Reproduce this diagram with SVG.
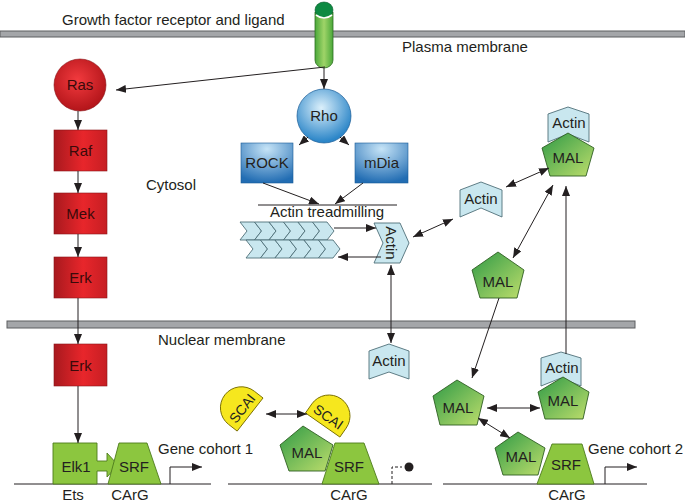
<svg xmlns="http://www.w3.org/2000/svg" width="685" height="504" viewBox="0 0 685 504">
<style>
.t{font-family:"Liberation Sans",Arial,sans-serif;font-size:15px;fill:#231f20}
.c{text-anchor:middle}
.s{font-size:14px}
.dk{fill:#3a0a0a}
.mem{fill:#a4a6a9;stroke:#5d5e60;stroke-width:1}
.ln{fill:none;stroke:#231f20;stroke-width:1}
.a{marker-end:url(#ah)}
.b{marker-start:url(#ah);marker-end:url(#ah)}
.rbox{fill:url(#gRed);stroke:#8a1418;stroke-width:0.6}
.bbox{fill:url(#gBlueBox);stroke:#1a5b96;stroke-width:0.6}
.actin{fill:#c9e7ef;stroke:#4f6f78;stroke-width:0.9}
.mal{fill:url(#gMal);stroke:#2f5f22;stroke-width:0.9}
.lime{fill:#8cc63f;stroke:#4d7a1c;stroke-width:0.9}
.scai{fill:#f6e71e;stroke:#7a6f00;stroke-width:0.9}
.dna{fill:none;stroke:#231f20;stroke-width:1}
</style>
<defs>
<marker id="ah" viewBox="0 0 10 8" refX="10" refY="4" markerWidth="10" markerHeight="8" markerUnits="userSpaceOnUse" orient="auto-start-reverse"><path d="M0,0L10,4L0,8z" fill="#231f20"/></marker>
<linearGradient id="gRed" x1="0" y1="0" x2="1" y2="0"><stop offset="0" stop-color="#a8191e"/><stop offset="0.55" stop-color="#e8262b"/><stop offset="1" stop-color="#c61e23"/></linearGradient>
<radialGradient id="gRas" cx="0.45" cy="0.4" r="0.6"><stop offset="0" stop-color="#f23a3e"/><stop offset="1" stop-color="#b3151a"/></radialGradient>
<radialGradient id="gRho" cx="0.45" cy="0.35" r="0.62"><stop offset="0" stop-color="#dcf0fb"/><stop offset="1" stop-color="#2c86c8"/></radialGradient>
<radialGradient id="gBlueBox" cx="0.5" cy="0.15" r="0.85"><stop offset="0" stop-color="#c6e4f7"/><stop offset="1" stop-color="#226db3"/></radialGradient>
<linearGradient id="gMal" x1="0" y1="0" x2="1" y2="1"><stop offset="0" stop-color="#2f9a46"/><stop offset="1" stop-color="#bede6c"/></linearGradient>
<linearGradient id="gRec" x1="0" y1="0" x2="1" y2="0"><stop offset="0" stop-color="#4aa83a"/><stop offset="0.5" stop-color="#9fd468"/><stop offset="1" stop-color="#4aa83a"/></linearGradient>
</defs>

<g id="membranes">
<rect class="mem" x="0" y="31" width="685" height="6"/>
<rect class="mem" x="7" y="321" width="628" height="7"/>
</g>

<g id="labels">
<text class="t" x="62" y="25">Growth factor receptor and ligand</text>
<text class="t" x="402" y="52">Plasma membrane</text>
<text class="t" x="146" y="190">Cytosol</text>
<text class="t" x="158" y="345">Nuclear membrane</text>
<text class="t" x="158" y="454">Gene cohort 1</text>
<text class="t" x="588" y="454">Gene cohort 2</text>
<text class="t c" x="73" y="500">Ets</text>
<text class="t c" x="130" y="500">CArG</text>
<text class="t c" x="349" y="500">CArG</text>
<text class="t c" x="567" y="500">CArG</text>
</g>

<g id="dna">
<path class="dna" d="M14,484H211M228,484H432M443,484H647"/>
</g>

<g id="receptor">
<path d="M315,12V60A9,8 0 0 0 333,60V12Z" fill="url(#gRec)" stroke="#2f6e22" stroke-width="0.8"/>
<ellipse cx="324" cy="10" rx="9" ry="8" fill="#0d8a42" stroke="#0a5a2c" stroke-width="0.6"/>
<path d="M316,15Q324,21 332,15" fill="none" stroke="#ffffff" stroke-width="1.6"/>
</g>

<g id="ras"><circle cx="80" cy="85" r="26" fill="url(#gRas)" stroke="#8a1418" stroke-width="0.6"/><text class="t c dk" x="80" y="90">Ras</text></g>
<g id="raf"><rect class="rbox" x="54" y="130" width="53" height="41"/><text class="t c dk" x="80.5" y="156">Raf</text></g>
<g id="mek"><rect class="rbox" x="54" y="193" width="53" height="41"/><text class="t c dk" x="80.5" y="219">Mek</text></g>
<g id="erk"><rect class="rbox" x="54" y="257" width="53" height="41"/><text class="t c dk" x="80.5" y="283">Erk</text></g>
<g id="erk-nuc"><rect class="rbox" x="54" y="344" width="53" height="42"/><text class="t c dk" x="80.5" y="371">Erk</text></g>

<g id="rho"><circle cx="324" cy="116" r="27" fill="url(#gRho)" stroke="#1a5b96" stroke-width="0.7"/><text class="t c" x="324" y="121">Rho</text></g>
<g id="rock"><rect class="bbox" x="241" y="143" width="52" height="40"/><text class="t c" x="267" y="168">ROCK</text></g>
<g id="mdia"><rect class="bbox" x="355" y="143" width="53" height="40"/><text class="t c" x="381.5" y="168">mDia</text></g>

<g id="treadmilling">
<text class="t c" x="327" y="217">Actin treadmilling</text>
<g class="actin">
<path d="M240,222h14.5l7,9l-7,9h-14.5l7,-9z"/>
<path d="M254.5,222h14.5l7,9l-7,9h-14.5l7,-9z"/>
<path d="M269,222h14.5l7,9l-7,9h-14.5l7,-9z"/>
<path d="M283.5,222h14.5l7,9l-7,9h-14.5l7,-9z"/>
<path d="M298,222h14.5l7,9l-7,9h-14.5l7,-9z"/>
<path d="M312.5,222h14.5l7,9l-7,9h-14.5l7,-9z"/>
<path d="M246,240h14.5l7,9l-7,9h-14.5l7,-9z"/>
<path d="M260.5,240h14.5l7,9l-7,9h-14.5l7,-9z"/>
<path d="M275,240h14.5l7,9l-7,9h-14.5l7,-9z"/>
<path d="M289.5,240h14.5l7,9l-7,9h-14.5l7,-9z"/>
<path d="M304,240h14.5l7,9l-7,9h-14.5l7,-9z"/>
<path d="M318.5,240h14.5l7,9l-7,9h-14.5l7,-9z"/>
</g>
</g>

<g id="actin-filament-end">
<path class="actin" d="M374,223H400L409,243L400,263H374L383,243Z"/>
<text class="t c" transform="translate(391,243) rotate(90)" y="5">Actin</text>
</g>

<g id="actin-cyto"><path class="actin" d="M481,182L502,190V217L481,208L460,217V190Z"/><text class="t c" x="481" y="204">Actin</text></g>

<g id="actin-mal-cyto">
<path class="actin" d="M568,107L589,114V142L568,134L548,142V114Z"/>
<text class="t c" x="569" y="128">Actin</text>
<path class="mal" d="M568,133L594,148L586,176H550L542,148Z"/>
<text class="t c" x="568" y="163">MAL</text>
</g>

<g id="mal-cyto"><path class="mal" d="M498,252L524,270L517,298H480L472,270Z"/><text class="t c" x="498" y="287">MAL</text></g>

<g id="actin-nuc"><path class="actin" d="M389,344L409,351V379L389,372L369,379V351Z"/><text class="t c" x="389" y="366">Actin</text></g>

<g id="mal-nuc"><path class="mal" d="M457,380L484,396L477,425H440L433,396Z"/><text class="t c" x="458" y="413">MAL</text></g>

<g id="actin-mal-nuc">
<path class="actin" d="M561,352L581,358V386L561,378L541,386V358Z"/>
<text class="t c" x="562" y="373">Actin</text>
<path class="mal" d="M563,377L589,392L583,419H545L538,392Z"/>
<text class="t c" x="563" y="406">MAL</text>
</g>

<g id="cohort1">
<path class="lime" d="M53,443H97V461H107V453L118,465L107,477V471H97V484H53Z"/>
<text class="t c" x="76" y="472">Elk1</text>
<path class="lime" d="M119,443H147L161,484H108Z"/>
<text class="t c" x="134" y="472">SRF</text>
</g>

<g id="scai-free">
<g transform="translate(243,409) rotate(-52)">
<path class="scai" d="M-21,9V-2A21,21 0 0 1 21,-2V9Z"/>
<text class="t c s" x="0" y="4">SCAI</text>
</g>
</g>

<g id="cohort-repressed">
<path class="mal" d="M303,426L333,445L325,471H289L280,445Z"/>
<text class="t c" x="307" y="458">MAL</text>
<path class="lime" d="M335,443H364L379,484H322Z"/>
<text class="t c" x="349" y="472">SRF</text>
<g transform="translate(329,416) rotate(35)">
<path class="scai" d="M-21,11V0A21,21 0 0 1 21,0V11Z"/>
<text class="t c s" x="0" y="6">SCAI</text>
</g>
</g>

<g id="cohort2">
<path class="mal" d="M518,432L545,448L538,475H503L495,448Z"/>
<text class="t c" x="521" y="462">MAL</text>
<path class="lime" d="M552,444H582L594,484H537Z"/>
<text class="t c" x="566" y="470">SRF</text>
</g>

<g id="connectors">
<path class="ln a" d="M325,67L116,90"/>
<path class="ln a" d="M324,68V89"/>
<path class="ln a" d="M78,111V130"/>
<path class="ln a" d="M78,171V193"/>
<path class="ln a" d="M78,234V257"/>
<path class="ln a" d="M78,298V344"/>
<path class="ln a" d="M78,386V443"/>
<path class="ln a" d="M308,137L299,145"/>
<path class="ln a" d="M340,137L349,145"/>
<path class="ln a" d="M263,183L319,204"/>
<path class="ln a" d="M363,183L335,204"/>
<path class="ln" d="M258,205H397"/>
<path class="ln a" d="M334,228H376"/>
<path class="ln a" d="M381,257H338"/>
<path class="ln b" d="M413,237L453,219"/>
<path class="ln b" d="M506,187L549,168"/>
<path class="ln b" d="M553,185L513,258"/>
<path class="ln a" d="M566,354V186"/>
<path class="ln a" d="M499,298L472,378"/>
<path class="ln b" d="M391,265V343"/>
<path class="ln b" d="M487,408H540"/>
<path class="ln b" d="M478,418L510,438"/>
<path class="ln b" d="M266,414H307"/>
<path class="ln a" d="M170,484V467H202"/>
<path class="ln a" d="M605,484V467H637"/>
<path class="ln" stroke-dasharray="3,2" d="M392,484V467H402"/>
<circle cx="409" cy="467" r="4.5" fill="#231f20"/>
</g>
</svg>
